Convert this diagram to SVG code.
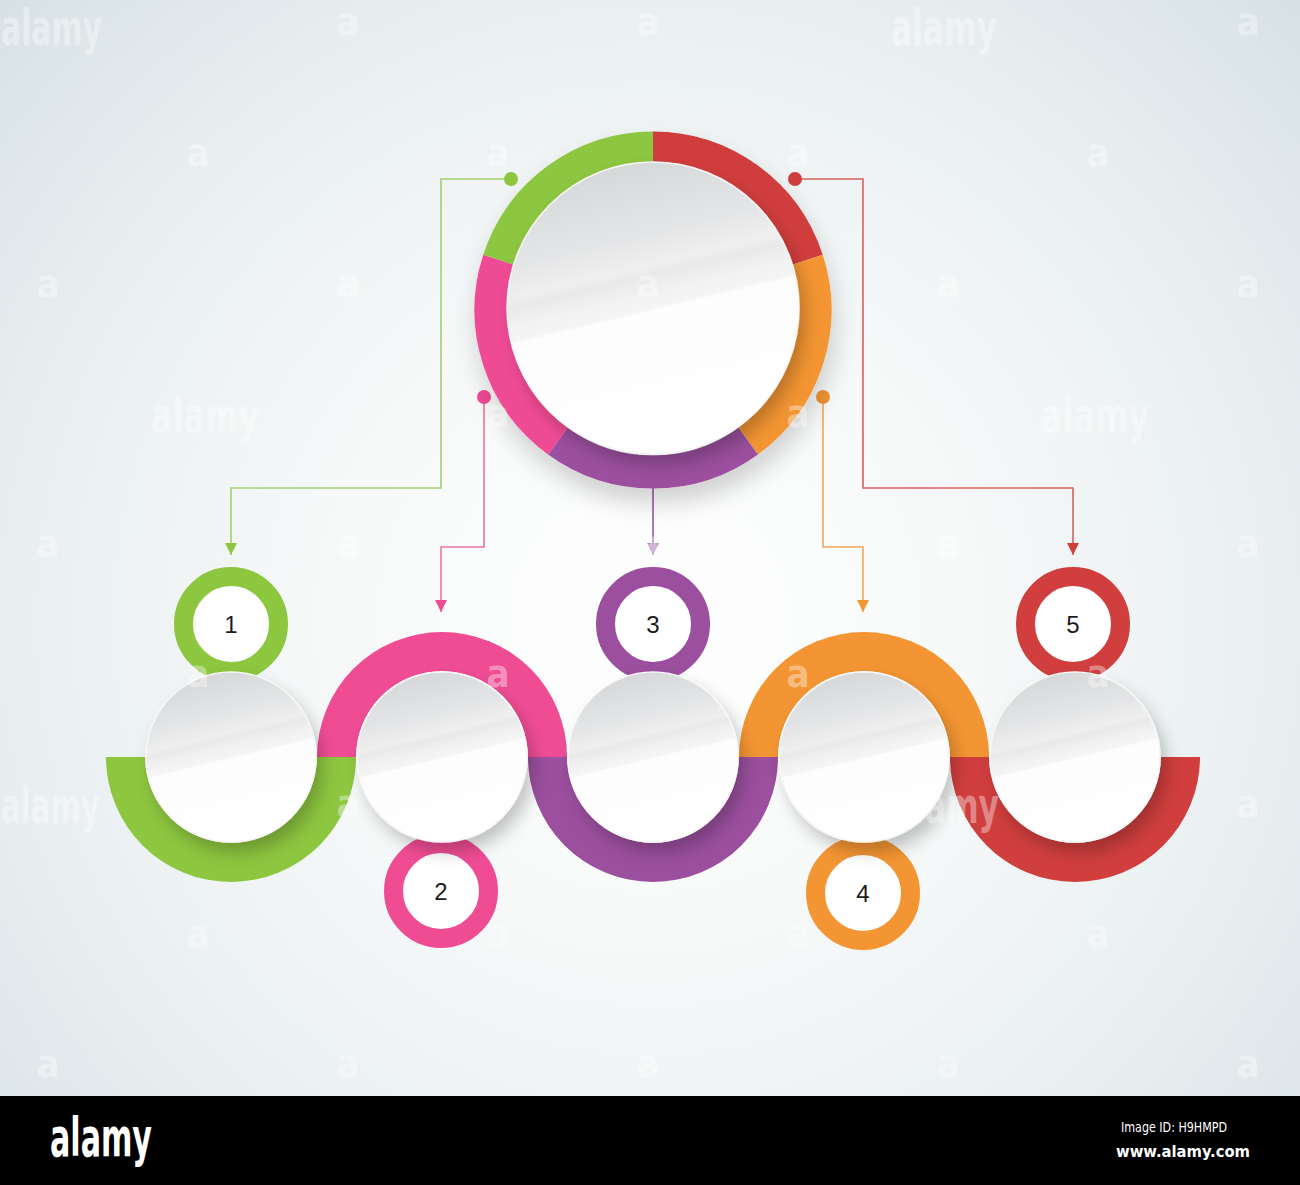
<svg xmlns="http://www.w3.org/2000/svg" width="1300" height="1185" viewBox="0 0 1300 1185">
<defs>
<radialGradient id="bg" gradientUnits="userSpaceOnUse" cx="650" cy="620" r="900">
<stop offset="0" stop-color="#ffffff"/>
<stop offset="0.35" stop-color="#f7f9f9"/>
<stop offset="0.7" stop-color="#e9eff1"/>
<stop offset="1" stop-color="#d7e1e5"/>
</radialGradient>
<linearGradient id="disc" x1="0.38" y1="0" x2="0.62" y2="1">
<stop offset="0" stop-color="#d6d7d9"/>
<stop offset="0.25" stop-color="#e4e5e6"/>
<stop offset="0.36" stop-color="#efeff0"/>
<stop offset="0.39" stop-color="#e9e9ea"/>
<stop offset="0.45" stop-color="#f2f2f3"/>
<stop offset="0.5" stop-color="#f5f5f6"/>
<stop offset="0.51" stop-color="#fdfdfd"/>
<stop offset="1" stop-color="#ffffff"/>
</linearGradient>
<filter id="sh" x="-30%" y="-30%" width="170%" height="170%">
<feDropShadow dx="6" dy="10" stdDeviation="8" flood-color="#000" flood-opacity="0.22"/>
</filter>
<filter id="shRing" x="-30%" y="-30%" width="160%" height="160%">
<feDropShadow dx="3" dy="14" stdDeviation="12" flood-color="#000" flood-opacity="0.18"/>
</filter>
<marker id="aGreen" viewBox="0 0 12 12" refX="12" refY="6" markerWidth="12" markerHeight="12" markerUnits="userSpaceOnUse" orient="auto"><path d="M0,0 L12,6 L0,12 z" fill="#8dc63f"/></marker>
<marker id="aPink" viewBox="0 0 12 12" refX="12" refY="6" markerWidth="12" markerHeight="12" markerUnits="userSpaceOnUse" orient="auto"><path d="M0,0 L12,6 L0,12 z" fill="#ef4c94"/></marker>
<marker id="aPurple" viewBox="0 0 12 12" refX="12" refY="6" markerWidth="12" markerHeight="12" markerUnits="userSpaceOnUse" orient="auto"><path d="M0,0 L12,6 L0,12 z" fill="#b886c6"/></marker>
<marker id="aOrange" viewBox="0 0 12 12" refX="12" refY="6" markerWidth="12" markerHeight="12" markerUnits="userSpaceOnUse" orient="auto"><path d="M0,0 L12,6 L0,12 z" fill="#f39533"/></marker>
<marker id="aRed" viewBox="0 0 12 12" refX="12" refY="6" markerWidth="12" markerHeight="12" markerUnits="userSpaceOnUse" orient="auto"><path d="M0,0 L12,6 L0,12 z" fill="#d03e3e"/></marker>
</defs>
<style>
.line{fill:none;stroke-width:1.6}
.seg{fill:none;stroke-width:33}
.disc{fill:url(#disc);stroke:#f7f7f7;stroke-width:1.5}
.num{font-family:"Liberation Sans",Arial,sans-serif;font-size:24px;fill:#1c1c1c;text-anchor:middle}
.nr{fill:#ffffff;stroke-width:19}
.wm{font-family:"DejaVu Sans Condensed","DejaVu Sans",sans-serif;font-weight:bold;fill:#ffffff;fill-opacity:0.38}
.wa{font-size:38px}
.wl{font-size:50px}
.foot{font-family:"DejaVu Sans Condensed","DejaVu Sans",sans-serif;fill:#ffffff}
</style>

<rect x="0" y="0" width="1300" height="1185" fill="url(#bg)"/>

<g id="connectors">
<path class="line" stroke="#a5cf70" d="M511,179 H441 V488 H231 V555" marker-end="url(#aGreen)"/>
<circle cx="511" cy="179" r="7" fill="#8dc63f"/>
<path class="line" stroke="#ea74a8" d="M484,397 V547 H441 V612" marker-end="url(#aPink)"/>
<circle cx="484" cy="397" r="7" fill="#ef4c94"/>
<path class="line" stroke="#9b55a6" d="M653,488 V555" marker-end="url(#aPurple)"/>
<path class="line" stroke="#f5a75a" d="M823,397 V547 H863 V612" marker-end="url(#aOrange)"/>
<circle cx="823" cy="397" r="7" fill="#f39533"/>
<path class="line" stroke="#d8625f" d="M795,179 H863 V488 H1073 V555" marker-end="url(#aRed)"/>
<circle cx="795" cy="179" r="7" fill="#d03e3e"/>
</g>

<g id="label-1"><circle class="nr" cx="231" cy="624" r="47.5" stroke="#8dc63f"/><text class="num" x="231" y="633">1</text></g>
<g id="label-2"><circle class="nr" cx="441" cy="891" r="47.5" stroke="#ef4c94"/><text class="num" x="441" y="900">2</text></g>
<g id="label-3"><circle class="nr" cx="653" cy="624" r="47.5" stroke="#9b4f9e"/><text class="num" x="653" y="633">3</text></g>
<g id="label-4"><circle class="nr" cx="863" cy="893" r="47.5" stroke="#f39533"/><text class="num" x="863" y="902">4</text></g>
<g id="label-5"><circle class="nr" cx="1073" cy="624" r="47.5" stroke="#d03e3e"/><text class="num" x="1073" y="633">5</text></g>

<g id="hub">
<g filter="url(#shRing)">
<path class="seg" stroke="#d03e3e" d="M653,148 A162,162 0 0 1 807.07,259.94"/>
<path class="seg" stroke="#f39533" d="M807.07,259.94 A162,162 0 0 1 748.22,441.06"/>
<path class="seg" stroke="#9b4f9e" d="M748.22,441.06 A162,162 0 0 1 557.78,441.06"/>
<path class="seg" stroke="#ef4c94" d="M557.78,441.06 A162,162 0 0 1 498.93,259.94"/>
<path class="seg" stroke="#8dc63f" d="M498.93,259.94 A162,162 0 0 1 653,148"/>
</g>
<circle class="disc" cx="653" cy="308" r="146" filter="url(#sh)"/>
</g>

<g id="wave">
<path fill="#8dc63f" d="M106,757 A125,125 0 0 0 356,757 L317,757 A86,86 0 0 1 145,757 Z"/>
<path fill="#ef4c94" d="M317,757 A125,125 0 0 1 567,757 L528,757 A86,86 0 0 0 356,757 Z"/>
<path fill="#9b4f9e" d="M528,757 A125,125 0 0 0 778,757 L739,757 A86,86 0 0 1 567,757 Z"/>
<path fill="#f39533" d="M739,757 A125,125 0 0 1 989,757 L950,757 A86,86 0 0 0 778,757 Z"/>
<path fill="#d03e3e" d="M950,757 A125,125 0 0 0 1200,757 L1161,757 A86,86 0 0 1 989,757 Z"/>
</g>

<g id="step-1"><circle class="disc" cx="231" cy="757" r="85" filter="url(#sh)"/></g>
<g id="step-2"><circle class="disc" cx="442" cy="757" r="85" filter="url(#sh)"/></g>
<g id="step-3"><circle class="disc" cx="653" cy="757" r="85" filter="url(#sh)"/></g>
<g id="step-4"><circle class="disc" cx="864" cy="757" r="85" filter="url(#sh)"/></g>
<g id="step-5"><circle class="disc" cx="1075" cy="757" r="85" filter="url(#sh)"/></g>

<g id="watermarks" class="wm">
<text class="wl" x="1" y="45" textLength="101" lengthAdjust="spacingAndGlyphs">alamy</text>
<text class="wl" x="891" y="45" textLength="106" lengthAdjust="spacingAndGlyphs">alamy</text>
<text class="wl" x="151" y="433" textLength="108" lengthAdjust="spacingAndGlyphs">alamy</text>
<text class="wl" x="1041" y="433" textLength="108" lengthAdjust="spacingAndGlyphs">alamy</text>
<text class="wl" x="1" y="823" textLength="99" lengthAdjust="spacingAndGlyphs">alamy</text>
<text class="wl" x="893" y="823" textLength="106" lengthAdjust="spacingAndGlyphs">alamy</text>
<g class="wa" text-anchor="middle">
<text x="348" y="35">a</text><text x="648" y="35">a</text><text x="1248" y="35">a</text>
<text x="198" y="166">a</text><text x="498" y="166">a</text><text x="798" y="166">a</text><text x="1098" y="166">a</text>
<text x="48" y="297">a</text><text x="348" y="297">a</text><text x="648" y="297">a</text><text x="948" y="297">a</text><text x="1248" y="297">a</text>
<text x="498" y="427">a</text><text x="798" y="427">a</text>
<text x="48" y="557">a</text><text x="348" y="557">a</text><text x="648" y="557">a</text><text x="948" y="557">a</text><text x="1248" y="557">a</text>
<text x="198" y="687">a</text><text x="498" y="687">a</text><text x="798" y="687">a</text><text x="1098" y="687">a</text>
<text x="348" y="817">a</text><text x="648" y="817">a</text><text x="1248" y="817">a</text>
<text x="198" y="947">a</text><text x="498" y="947">a</text><text x="798" y="947">a</text><text x="1098" y="947">a</text>
<text x="48" y="1077">a</text><text x="348" y="1077">a</text><text x="648" y="1077">a</text><text x="948" y="1077">a</text><text x="1248" y="1077">a</text>
</g>
</g>

<g id="footer">
<rect x="0" y="1096" width="1300" height="89" fill="#000000"/>
<text class="foot" x="50" y="1156" font-size="54" font-weight="bold" textLength="102" lengthAdjust="spacingAndGlyphs">alamy</text>
<text class="foot" x="1121" y="1132" font-size="14" textLength="106" lengthAdjust="spacingAndGlyphs">Image ID: H9HMPD</text>
<text class="foot" x="1116" y="1157" font-size="16" font-weight="bold" textLength="134" lengthAdjust="spacingAndGlyphs">www.alamy.com</text>
</g>
</svg>
